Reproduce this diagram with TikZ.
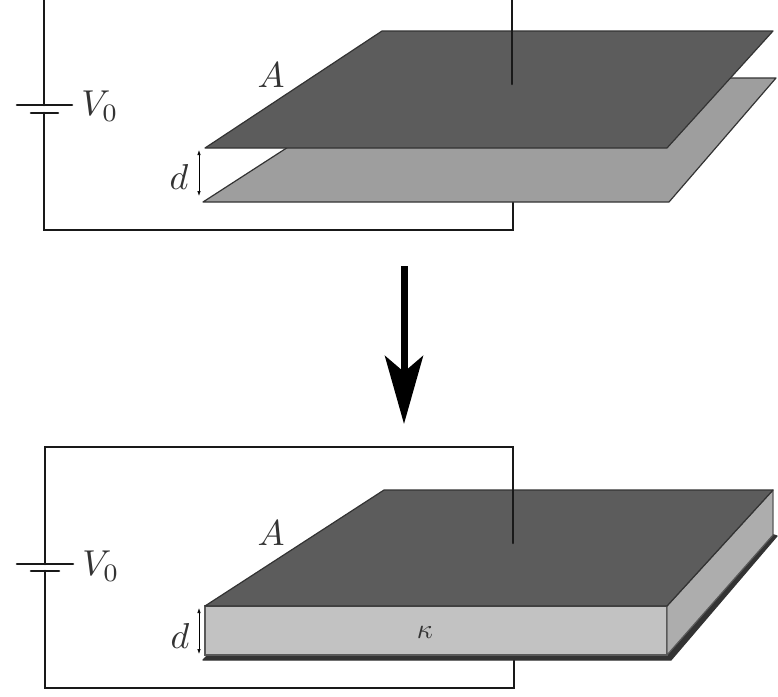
\documentclass[tikz,border=0pt]{standalone}
\usetikzlibrary{arrows.meta, positioning}
\tikzset{
	wire/.style={line width=2.6pt, black!90, line cap=round},
	plate/.style={draw=black!80, line width=1.2pt, line join=round},
	gapmark/.style={{Latex[length=5pt,width=3.5pt]}-{Latex[length=5pt,width=3.5pt]}, line width=.7pt},
	big/.style={text centered, inner sep=0pt, scale=3.6, text=black!80}
}
\begin{document}
\begin{tikzpicture}[x=1pt, y=-1pt]
	\useasboundingbox (0,0) rectangle (778,696);
	% top coordinates %
	\coordinate (tl) at (44,-5);
	\coordinate (tr) at (512,-5);
	\coordinate (tbl) at (44,230);
	\coordinate (tbr) at (513,230);
	\coordinate (tlead) at (512,84);
	\coordinate (tfoot) at (513,200);
	\coordinate (tlong1) at (17,105);
	\coordinate (tlong2) at (72,105);
	\coordinate (tshort1) at (31,113);
	\coordinate (tshort2) at (58,113);
	\coordinate (tbat1) at (44,105);
	\coordinate (tbat2) at (44,113);
	\coordinate (td1) at (199,150);
	\coordinate (td2) at (199,196);

	% bottom coordinates %
	\coordinate (bl) at (45,447);
	\coordinate (br) at (513,447);
	\coordinate (bbl) at (45,688);
	\coordinate (bbr) at (514,688);
	\coordinate (blead) at (513,543);
	\coordinate (bfoot) at (514,658);
	\coordinate (blong1) at (17,564);
	\coordinate (blong2) at (73,564);
	\coordinate (bshort1) at (31,571);
	\coordinate (bshort2) at (59,571);
	\coordinate (bbat1) at (45,564);
	\coordinate (bbat2) at (45,571);
	\coordinate (bd1) at (199,608);
	\coordinate (bd2) at (199,654);

	% arrow ends %
	\coordinate (from) at (404,266);
	\coordinate (to) at (404,424);

	% top circuit %
	\draw[wire] (tbat2) -- (tbl) -- (tbr) -- (tfoot);
	\draw[plate, fill=black!38] (203,202) -- (669,202) -- (776,78) -- (395,78) -- cycle;
	\draw[plate, fill=black!64] (205,148) -- (667,148) -- (773,31) -- (382,31) -- cycle;
	\draw[wire] (tl) -- (tbat1);
	\draw[wire] (tr) -- (tlead);
	\draw[wire] (tlong1) -- (tlong2);
	\draw[wire] (tshort1) -- (tshort2);
	\draw[gapmark] (td1) -- (td2);

	% bottom circuit %
	\draw[wire] (bbat2) -- (bbl) -- (bbr) -- (bfoot);
	\draw[plate, fill=black!80] (203,660) -- (671,660) -- (777,536) -- (771,534) -- (667,655) -- (208,655) -- cycle;
	\draw[draw=black!65, line width=1.2pt, fill=black!24] (205,606) rectangle (667,655);
	\draw[draw=black!65, line width=1.2pt, fill=black!32, line join=round] (667,606) -- (773,490) -- (773,535) -- (667,655) -- cycle;
	\draw[plate, fill=black!64] (205,606) -- (667,606) -- (773,490) -- (384,490) -- cycle;
	\draw[wire] (bbat1) -- (bl) -- (br) -- (blead);
	\draw[wire] (blong1) -- (blong2);
	\draw[wire] (bshort1) -- (bshort2);
	\draw[gapmark] (bd1) -- (bd2);

	% labels %
	\node[big] (tv) at (100,106) {$V_0$};
	\node[big] (ta) at (271,75) {$A$};
	\node[big] (td) at (179,177) {$d$};
	\node[big] (bv) at (101,566) {$V_0$};
	\node[big] (ba) at (271,533) {$A$};
	\node[big] (bd) at (180,636) {$d$};
	\node[text centered, inner sep=0pt, scale=2.8, text=black!80] (k) at (425,632) {$\kappa$};

	% edges %
	\draw[-{Stealth[length=68pt,width=38pt,inset=16pt]}, line width=7pt, black] (from) -- (to);
\end{tikzpicture}
\end{document}
